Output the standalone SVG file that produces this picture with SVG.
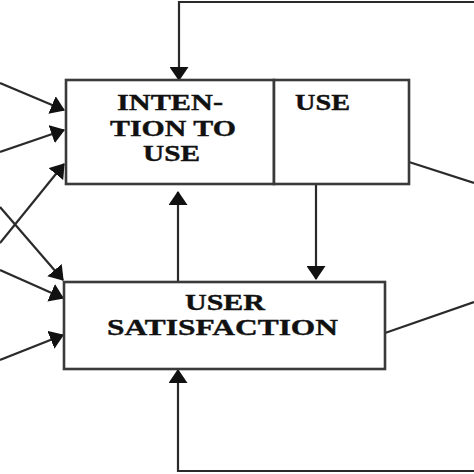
<svg xmlns="http://www.w3.org/2000/svg" width="474" height="474" viewBox="0 0 474 474">
<defs>
<marker id="ah" viewBox="0 0 14 19" refX="13" refY="9.5" markerWidth="14" markerHeight="19" markerUnits="userSpaceOnUse" orient="auto">
<path d="M0,0 L14,9.5 L0,19 z" fill="#111"/>
</marker>
<style>
.box{fill:#fff;stroke:#3a3a3a;stroke-width:2.6}
.ln{fill:none;stroke:#2a2a2a;stroke-width:2.2}
.t{font-family:"Liberation Serif","Times New Roman",serif;font-weight:bold;font-size:23.5px;fill:#111;stroke:#111;stroke-width:0.4}
</style>
</defs>
<rect width="474" height="474" fill="#fff"/>
<g id="connectors">
<path class="ln" d="M474,2 H179 V80" marker-end="url(#ah)"/>
<line class="ln" x1="178" y1="282" x2="178" y2="192" marker-end="url(#ah)"/>
<line class="ln" x1="316" y1="184" x2="316" y2="279" marker-end="url(#ah)"/>
<path class="ln" d="M474,471 H178 V370" marker-end="url(#ah)"/>
<line class="ln" x1="0" y1="83" x2="64" y2="110" marker-end="url(#ah)"/>
<line class="ln" x1="0" y1="152" x2="64" y2="130" marker-end="url(#ah)"/>
<line class="ln" x1="0" y1="243" x2="64" y2="164" marker-end="url(#ah)"/>
<line class="ln" x1="0" y1="207" x2="63" y2="280" marker-end="url(#ah)"/>
<line class="ln" x1="0" y1="270" x2="63" y2="298" marker-end="url(#ah)"/>
<line class="ln" x1="0" y1="360" x2="63" y2="335" marker-end="url(#ah)"/>
<line class="ln" x1="409" y1="162" x2="474" y2="183"/>
<line class="ln" x1="385" y1="333" x2="474" y2="302"/>
</g>
<g id="intention">
<rect class="box" x="66" y="80" width="208" height="104"/>
<text class="t" x="117" y="110" textLength="106" lengthAdjust="spacingAndGlyphs">INTEN-</text>
<text class="t" x="110" y="136" textLength="126" lengthAdjust="spacingAndGlyphs">TION TO</text>
<text class="t" x="143" y="161" textLength="57" lengthAdjust="spacingAndGlyphs">USE</text>
</g>
<g id="use">
<rect class="box" x="274" y="80" width="135" height="104"/>
<text class="t" x="295" y="110" textLength="55" lengthAdjust="spacingAndGlyphs">USE</text>
</g>
<g id="satisfaction">
<rect class="box" x="64" y="282" width="321" height="87"/>
<text class="t" x="185" y="310" textLength="80" lengthAdjust="spacingAndGlyphs">USER</text>
<text class="t" x="107" y="335" textLength="231" lengthAdjust="spacingAndGlyphs">SATISFACTION</text>
</g>
</svg>
